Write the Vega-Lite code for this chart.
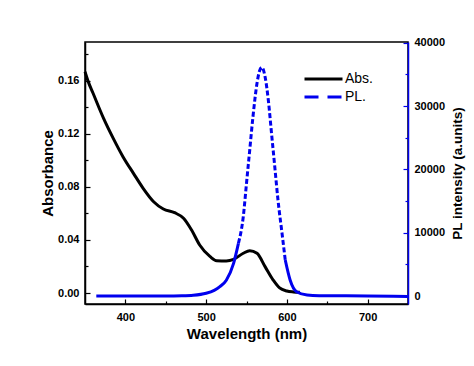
{
  "$schema": "https://vega.github.io/schema/vega-lite/v6.json",
  "width": 323,
  "height": 262,
  "autosize": "none",
  "padding": {"left": 85, "top": 42, "right": 66, "bottom": 62},
  "background": "white",
  "config": {"view": {"stroke": "black", "strokeWidth": 1.5}, "font": "Liberation Sans"},
  "datasets": {
    "spectra": [
      {"wl": 350, "series": "Abs.", "v": 0.167},
      {"wl": 354, "series": "Abs.", "v": 0.1595},
      {"wl": 360, "series": "Abs.", "v": 0.1507},
      {"wl": 373, "series": "Abs.", "v": 0.1318},
      {"wl": 385, "series": "Abs.", "v": 0.1167},
      {"wl": 397, "series": "Abs.", "v": 0.1029},
      {"wl": 410, "series": "Abs.", "v": 0.0903},
      {"wl": 422, "series": "Abs.", "v": 0.079},
      {"wl": 435, "series": "Abs.", "v": 0.0689},
      {"wl": 447, "series": "Abs.", "v": 0.0634},
      {"wl": 461, "series": "Abs.", "v": 0.0606},
      {"wl": 472, "series": "Abs.", "v": 0.0564},
      {"wl": 482, "series": "Abs.", "v": 0.0475},
      {"wl": 492, "series": "Abs.", "v": 0.0362},
      {"wl": 505, "series": "Abs.", "v": 0.0274},
      {"wl": 513, "series": "Abs.", "v": 0.0244},
      {"wl": 525, "series": "Abs.", "v": 0.0242},
      {"wl": 534, "series": "Abs.", "v": 0.0254},
      {"wl": 546, "series": "Abs.", "v": 0.030},
      {"wl": 554, "series": "Abs.", "v": 0.0319},
      {"wl": 563, "series": "Abs.", "v": 0.030},
      {"wl": 573, "series": "Abs.", "v": 0.0199},
      {"wl": 583, "series": "Abs.", "v": 0.0098},
      {"wl": 591, "series": "Abs.", "v": 0.0038},
      {"wl": 600, "series": "Abs.", "v": 0.0015},
      {"wl": 608, "series": "Abs.", "v": 0.0008},
      {"wl": 616, "series": "Abs.", "v": 0.0005},
      {"wl": 364, "series": "PL.", "v": 0},
      {"wl": 400, "series": "PL.", "v": 0},
      {"wl": 450, "series": "PL.", "v": 0},
      {"wl": 470, "series": "PL.", "v": 30},
      {"wl": 484, "series": "PL.", "v": 110},
      {"wl": 500, "series": "PL.", "v": 430},
      {"wl": 510, "series": "PL.", "v": 900},
      {"wl": 517, "series": "PL.", "v": 1470},
      {"wl": 525, "series": "PL.", "v": 2500},
      {"wl": 534, "series": "PL.", "v": 5160},
      {"wl": 540, "series": "PL.", "v": 8320},
      {"wl": 546, "series": "PL.", "v": 12520},
      {"wl": 550, "series": "PL.", "v": 17800},
      {"wl": 554, "series": "PL.", "v": 23050},
      {"wl": 558, "series": "PL.", "v": 28300},
      {"wl": 563, "series": "PL.", "v": 33580},
      {"wl": 566, "series": "PL.", "v": 35500},
      {"wl": 569, "series": "PL.", "v": 36100},
      {"wl": 573, "series": "PL.", "v": 34630},
      {"wl": 577, "series": "PL.", "v": 30950},
      {"wl": 581, "series": "PL.", "v": 25690},
      {"wl": 585, "series": "PL.", "v": 20420},
      {"wl": 589, "series": "PL.", "v": 15160},
      {"wl": 594, "series": "PL.", "v": 9900},
      {"wl": 598, "series": "PL.", "v": 5680},
      {"wl": 604, "series": "PL.", "v": 2530},
      {"wl": 612, "series": "PL.", "v": 680},
      {"wl": 625, "series": "PL.", "v": 160},
      {"wl": 640, "series": "PL.", "v": 50},
      {"wl": 700, "series": "PL.", "v": 0},
      {"wl": 750, "series": "PL.", "v": -80}
    ]
  },
  "data": {"name": "spectra"},
  "encoding": {
    "x": {
      "field": "wl", "type": "quantitative",
      "scale": {"domain": [350, 750], "nice": false, "zero": false},
      "axis": {
        "values": [400, 450, 500, 550, 600, 650, 700],
        "labelExpr": "datum.value % 100 == 0 ? format(datum.value, 'd') : ''",
        "tickSize": {"condition": {"test": "datum.value % 100 == 0", "value": -5}, "value": -3},
        "tickColor": "black", "tickWidth": 1.2,
        "domainColor": "black", "domainWidth": 1.5,
        "grid": false,
        "labelFont": "Liberation Sans", "labelFontWeight": "bold", "labelFontSize": 11, "labelColor": "black",
        "labelPadding": 12,
        "title": "Wavelength (nm)", "titleFont": "Liberation Sans", "titleFontWeight": "bold", "titleFontSize": 15, "titleColor": "black",
        "titlePadding": 4
      }
    },
    "color": {
      "field": "series", "type": "nominal",
      "scale": {"domain": ["Abs.", "PL."], "range": ["black", "#0000ee"]},
      "legend": {
        "title": null, "orient": "none", "legendX": 218, "legendY": 26,
        "symbolType": "M-1,0H3", "symbolSize": 361, "symbolStrokeWidth": 3,
        "labelFont": "Liberation Sans", "labelFontSize": 14, "labelColor": "black",
        "labelOffset": 20, "rowPadding": 0, "padding": 0,
        "encode": {"symbols": {"update": {"strokeDash": {"signal": "datum.value === 'PL.' ? [14, 9] : [1, 0]"}, "fill": {"value": "transparent"}}}}
      }
    }
  },
  "layer": [
    {
      "transform": [{"filter": "datum.series === 'Abs.'"}],
      "mark": {"type": "line", "strokeWidth": 3, "interpolate": "monotone"},
      "encoding": {
        "y": {
          "field": "v", "type": "quantitative",
          "scale": {"domain": [-0.0083, 0.1894], "nice": false, "zero": false},
          "axis": {
            "orient": "left",
            "values": [0, 0.02, 0.04, 0.06, 0.08, 0.1, 0.12, 0.14, 0.16, 0.18],
            "labelExpr": "round(datum.value * 100) % 4 == 0 ? format(datum.value, '.2f') : ''",
            "tickSize": {"condition": {"test": "round(datum.value * 100) % 4 == 0", "value": -5}, "value": -3},
            "tickColor": "black", "tickWidth": 1.2,
            "domainColor": "black", "domainWidth": 1.5,
            "grid": false,
            "labelFont": "Liberation Sans", "labelFontWeight": "bold", "labelFontSize": 11, "labelColor": "black",
            "labelPadding": 11,
            "title": "Absorbance", "titleFont": "Liberation Sans", "titleFontWeight": "bold", "titleFontSize": 15, "titleColor": "black",
            "titlePadding": 2
          }
        }
      }
    },
    {
      "encoding": {
        "y": {
          "field": "v", "type": "quantitative",
          "scale": {"domain": [-1263, 40107], "nice": false, "zero": false},
          "axis": {
            "orient": "right",
            "values": [0, 5000, 10000, 15000, 20000, 25000, 30000, 35000, 40000],
            "labelExpr": "datum.value % 10000 == 0 ? format(datum.value, 'd') : ''",
            "tickSize": {"condition": {"test": "datum.value % 10000 == 0", "value": -5}, "value": -3},
            "tickColor": "#0000ee", "tickWidth": 1.2,
            "domainColor": "#0000ee", "domainWidth": 1.5,
            "grid": false,
            "labelFont": "Liberation Sans", "labelFontWeight": "bold", "labelFontSize": 11, "labelColor": "black",
            "labelPadding": 11,
            "title": "PL intensity (a.units)", "titleFont": "Liberation Sans", "titleFontWeight": "bold", "titleFontSize": 13.5, "titleColor": "black",
            "titleAngle": 270, "titleBaseline": "top", "titlePadding": 6
          }
        }
      },
      "layer": [
        {
          "transform": [{"filter": "datum.series === 'PL.' && datum.wl <= 540"}],
          "mark": {"type": "line", "strokeWidth": 3, "interpolate": "monotone"}
        },
        {
          "transform": [{"filter": "datum.series === 'PL.' && datum.wl >= 540 && datum.wl <= 598"}],
          "mark": {"type": "line", "strokeWidth": 3, "interpolate": "monotone", "strokeDash": [5, 2.5]}
        },
        {
          "transform": [{"filter": "datum.series === 'PL.' && datum.wl >= 598"}],
          "mark": {"type": "line", "strokeWidth": 3, "interpolate": "monotone"}
        }
      ]
    }
  ],
  "resolve": {"scale": {"y": "independent"}}
}
